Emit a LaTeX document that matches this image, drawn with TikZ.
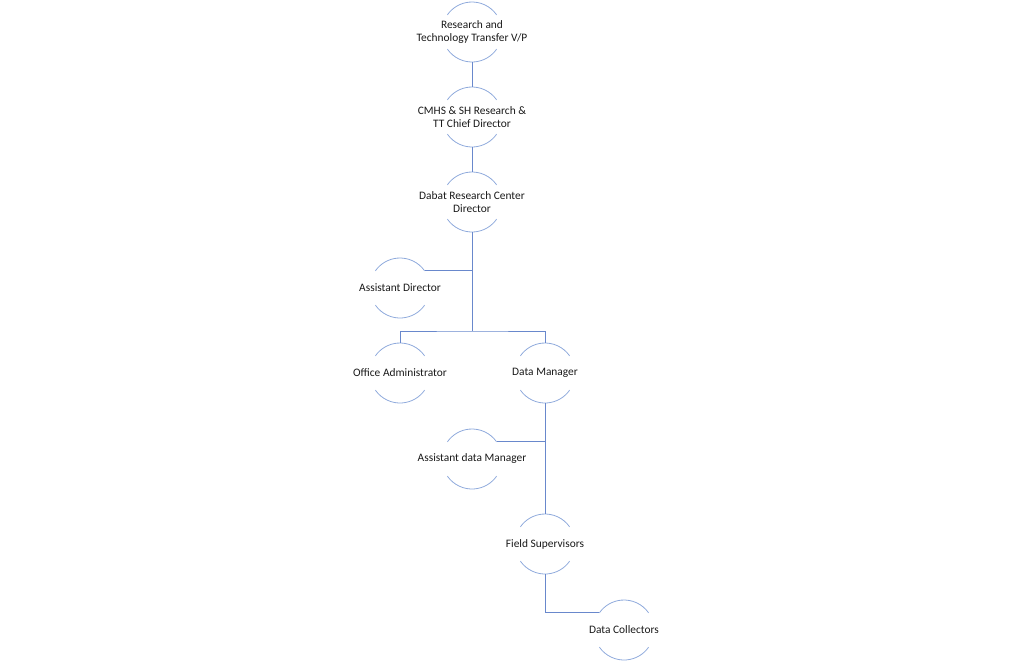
\documentclass[tikz,border=0pt]{standalone}
\usepackage{fontspec}
\setmainfont{Carlito}
\usepackage{tikz}
\usetikzlibrary{shapes}
\definecolor{arcblue}{RGB}{143,170,220}
\definecolor{lineblue}{RGB}{105,136,204}
\newcommand{\halfarcs}[1]{%
\draw [arcblue,line width=.8pt] (#1.35) arc (35:145:30pt);
\draw [arcblue,line width=.8pt] (#1.215) arc (215:325:30pt);}

\begin{document}
\begin{tikzpicture}[x=1pt,y=1pt,inner sep=0pt,outer sep=0pt,
  ring/.style={circle,minimum size=60pt},
  lbl/.style={align=center,font=\fontsize{11.4}{13}\selectfont,text=black!90}]
\useasboundingbox (0,0) rectangle (1024,-662);
%Node Coordinates
\node at (472,-32) [ring] (VP) {};
\node at (472,-117) [ring] (Chief) {};
\node at (472,-202) [ring] (Director) {};
\node at (400,-288) [ring] (AsstDir) {};
\node at (400,-373) [ring] (OffAdmin) {};
\node at (545,-373) [ring] (DataMgr) {};
\node at (472,-459) [ring] (AsstDataMgr) {};
\node at (545,-544) [ring] (FieldSup) {};
\node at (624,-630) [ring] (DataCol) {};
\coordinate (Split) at (472,-331);

%Node Arcs
\halfarcs{VP}
\halfarcs{Chief}
\halfarcs{Director}
\halfarcs{AsstDir}
\halfarcs{OffAdmin}
\halfarcs{DataMgr}
\halfarcs{AsstDataMgr}
\halfarcs{FieldSup}
\halfarcs{DataCol}

%Node Labels
\node [lbl] at (VP) (VPText) {Research and\\Technology Transfer V/P};
\node [lbl] at (Chief) (ChiefText) {CMHS \& SH Research \&\\TT Chief Director};
\node [lbl] at (Director) (DirectorText) {Dabat Research Center\\Director};
\node [lbl] at (AsstDir) (AsstDirText) {Assistant Director};
\node [lbl] at (OffAdmin) (OffAdminText) {Office Administrator};
\node [lbl] at (DataMgr) (DataMgrText) {Data Manager};
\node [lbl] at (AsstDataMgr) (AsstDataMgrText) {Assistant data Manager};
\node [lbl] at (FieldSup) (FieldSupText) {Field Supervisors};
\node [lbl] at (DataCol) (DataColText) {Data Collectors};

%Connections
\begin{scope}[lineblue,line width=.75pt]
\draw (VP.south) -- (Chief.north);
\draw (Chief.south) -- (Director.north);
\draw (Director.south) |- (AsstDir.35);
\draw (Director.south) -- (Split);
\draw (OffAdmin.north) |- (Split) -| (DataMgr.north);
\draw (DataMgr.south) |- (AsstDataMgr.35);
\draw (DataMgr.south) -- (FieldSup.north);
\draw (FieldSup.south) |- (DataCol.145);
\end{scope}
\end{tikzpicture}
\end{document}
